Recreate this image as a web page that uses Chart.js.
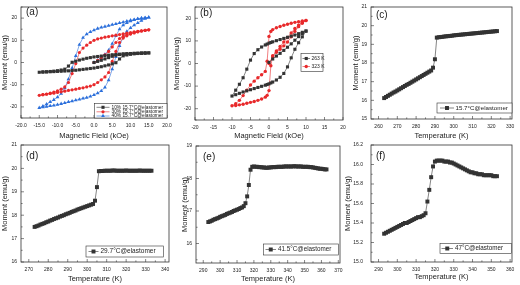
<!DOCTYPE html>
<html>
<head>
<meta charset="utf-8">
<script src="https://cdn.jsdelivr.net/npm/chart.js@4.4.0/dist/chart.umd.min.js"></script>
<style>
html, body { margin: 0; padding: 0; background: #fff; }
#wrap { position: relative; width: 520px; height: 285px; overflow: hidden; background: #fff; }
#wrap canvas { position: absolute; left: 0; top: 0; }
</style>
</head>
<body>
<div id="wrap">
  <canvas id="pa" width="520" height="285"></canvas>
  <canvas id="pb" width="520" height="285"></canvas>
  <canvas id="pc" width="520" height="285"></canvas>
  <canvas id="pd" width="520" height="285"></canvas>
  <canvas id="pe" width="520" height="285"></canvas>
  <canvas id="pf" width="520" height="285"></canvas>
</div>
<script>
// (a) field sweep: virgin 0 -> 15, then 15 -> -15, then -15 -> 15 (kOe)
const fieldA = [0,1,2,3,4,5,6,7,8,9,10,11,12,13,14,15,
  14,13,12,11,10,9,8,7,6,5,4,3,2,1,0,-1,-2,-3,-4,-5,-6,-7,-8,-9,-10,-11,-12,-13,-14,-15,
  -14,-13,-12,-11,-10,-9,-8,-7,-6,-5,-4,-3,-2,-1,0,1,2,3,4,5,6,7,8,9,10,11,12,13,14,15];
const moment10 = [0,0.5,1.0,1.6,2.2,2.8,3.3,3.6,3.8,3.95,4.05,4.1,4.15,4.2,4.25,4.3,
  4.25,4.2,4.15,4.1,4.0,3.95,3.85,3.75,3.6,3.5,3.3,3.1,2.9,2.7,2.5,2.2,1.9,1.5,1.1,0.6,0.1,-1.6,-3.0,-3.4,-3.7,-3.9,-4.05,-4.2,-4.3,-4.4,
  -4.25,-4.2,-4.15,-4.1,-4.0,-3.95,-3.85,-3.75,-3.6,-3.5,-3.3,-3.1,-2.9,-2.7,-2.5,-2.2,-1.9,-1.5,-1.1,-0.6,-0.1,1.6,3.0,3.4,3.7,3.9,4.05,4.2,4.3,4.35];
const moment30 = [0,1.0,2.2,3.5,5.0,7.0,9.0,10.8,11.8,12.5,13.0,13.5,13.9,14.2,14.5,14.7,
  14.5,14.3,14.0,13.8,13.5,13.2,12.9,12.6,12.3,12.0,11.7,11.4,11.0,10.6,10.0,9.0,7.8,6.5,4.5,-0.5,-5.0,-9.0,-11.0,-12.0,-12.8,-13.3,-13.8,-14.2,-14.5,-14.8,
  -14.5,-14.3,-14.0,-13.8,-13.5,-13.2,-12.9,-12.6,-12.3,-12.0,-11.7,-11.4,-11.0,-10.6,-10.0,-9.0,-7.8,-6.5,-4.5,0.5,5.0,9.0,11.0,12.0,12.8,13.3,13.8,14.2,14.5,14.7];
const moment40 = [0,1.0,2.2,3.6,5.5,8.5,12.0,15.0,16.8,17.8,18.6,19.2,19.6,19.9,20.1,20.3,
  20.1,19.9,19.6,19.3,19.0,18.6,18.2,17.8,17.4,17.0,16.6,16.2,15.8,15.3,14.6,13.8,12.8,11.2,8.0,3.0,-2.5,-7.5,-11.5,-14.0,-15.6,-16.8,-17.8,-18.8,-19.7,-20.4,
  -20.1,-19.9,-19.6,-19.3,-19.0,-18.6,-18.2,-17.8,-17.4,-17.0,-16.6,-16.2,-15.8,-15.3,-14.6,-13.8,-12.8,-11.2,-8.0,-3.0,2.5,7.5,11.5,14.0,15.6,16.8,17.8,18.8,19.7,20.3];
const fieldTicksA = [-20,-15,-10,-5,0,5,10,15,20];
const momentTicksA = [-20,-10,0,10,20];

// (b) field sweep, +-10 kOe
const fieldB = [0,1,2,3,4,5,6,7,8,9,10,
  9,8,7,6,5,4,3,2,1,0.5,0,-0.5,-1,-2,-3,-4,-5,-6,-7,-8,-9,-10,
  -9,-8,-7,-6,-5,-4,-3,-2,-1,-0.5,0,0.5,1,2,3,4,5,6,7,8,9,10];
const moment263 = [0.5,2.0,3.3,4.5,5.8,7.2,8.7,10.3,11.9,13.3,14.4,
  13.8,13.2,12.6,12.1,11.6,11.1,10.6,10.1,9.6,9.3,9.0,8.6,8.2,7.3,6.1,4.4,1.5,-2.5,-6.3,-9.2,-11.8,-14.4,
  -13.8,-13.2,-12.6,-12.1,-11.6,-11.1,-10.6,-10.1,-9.6,-9.3,-9.0,-8.6,-8.2,-7.3,-6.1,-4.4,-1.5,2.5,6.3,9.2,11.8,14.3];
const moment323 = [0,3.0,5.5,7.5,9.5,11.5,13.5,15.5,17.0,18.2,19.0,
  18.8,18.5,18.2,17.8,17.4,16.9,16.4,15.8,15.0,14.2,12.0,1.0,-3.5,-5.0,-6.3,-7.8,-9.5,-11.8,-14.2,-16.3,-17.8,-18.7,
  -18.6,-18.3,-18.0,-17.6,-17.2,-16.8,-16.3,-15.7,-14.9,-14.1,-12.0,-1.0,3.5,5.0,6.3,7.8,9.5,11.8,14.2,16.3,17.8,19.0];
const fieldTicksB = [-20,-15,-10,-5,0,5,10,15,20];
const momentTicksB = [-20,-10,0,10,20];

// (c) 15.7 C elastomer, M(T)
const tempC = [263,264,265,266,267,268,269,270,271,272,273,274,275,276,277,278,279,280,281,282,283,284,285,286,287,288,289,290,291,
  292,293,294,295,296,297,298,299,300,301,302,303,304,305,306,307,308,309,310,311,312,313,314,315,316,317,318,319,320,321,322,323];
const momentC = [16.12,16.18,16.24,16.30,16.36,16.42,16.47,16.53,16.59,16.65,16.71,16.77,16.83,16.88,16.94,17.00,17.06,17.12,17.18,17.24,17.30,17.36,17.42,17.48,17.54,17.60,17.75,18.20,19.36,
  19.38,19.39,19.40,19.42,19.43,19.44,19.45,19.46,19.48,19.49,19.50,19.51,19.52,19.53,19.54,19.55,19.56,19.57,19.58,19.59,19.60,19.61,19.62,19.63,19.64,19.65,19.66,19.67,19.68,19.69,19.70,19.71];
const tempTicksC = [260,270,280,290,300,310,320,330];
const momentTicksC = [15,16,17,18,19,20,21];

// (d) 29.7 C elastomer
const tempD = [273,274,275,276,277,278,279,280,281,282,283,284,285,286,287,288,289,290,291,292,293,294,295,296,297,298,299,300,301,302,303,304,305,306,
  307,308,309,310,311,312,313,314,315,316,317,318,319,320,321,322,323,324,325,326,327,328,329,330,331,332,333];
const momentD = [17.50,17.53,17.56,17.60,17.63,17.66,17.70,17.73,17.77,17.80,17.84,17.87,17.90,17.94,17.97,18.00,18.04,18.07,18.10,18.14,18.17,18.20,18.24,18.27,18.30,18.33,18.36,18.39,18.42,18.45,18.48,18.62,19.20,19.88,
  19.89,19.89,19.90,19.90,19.90,19.90,19.91,19.91,19.90,19.90,19.90,19.90,19.90,19.91,19.90,19.90,19.90,19.90,19.90,19.90,19.91,19.90,19.90,19.90,19.90,19.90,19.90];
const tempTicksD = [270,280,290,300,310,320,330,340];
const momentTicksD = [16,17,18,19,20,21];

// (e) 41.5 C elastomer
const tempE = [293,294,295,296,297,298,299,300,301,302,303,304,305,306,307,308,309,310,311,312,313,314,315,316,317,318,319,320,
  321,322,323,324,325,326,327,328,329,330,331,332,333,334,335,336,337,338,339,340,341,342,343,344,345,346,347,348,349,350,
  351,352,353,354,355,356,357,358,359,360,361,362,363];
const momentE = [16.66,16.68,16.70,16.73,16.75,16.77,16.79,16.82,16.84,16.86,16.88,16.91,16.93,16.95,16.97,17.00,17.02,17.04,17.06,17.09,17.11,17.15,17.24,17.45,17.80,18.27,18.36,18.37,
  18.36,18.36,18.35,18.35,18.34,18.34,18.33,18.33,18.34,18.34,18.35,18.35,18.35,18.36,18.36,18.36,18.36,18.37,18.37,18.37,18.37,18.37,18.37,18.38,18.37,18.37,18.37,18.37,18.36,18.36,
  18.36,18.36,18.35,18.35,18.34,18.33,18.32,18.31,18.30,18.30,18.29,18.28,18.28];
const tempTicksE = [290,300,310,320,330,340,350,360,370];
const momentTicksE = [16,17,18,19];

// (f) 47 C elastomer
const tempF = [293,294,295,296,297,298,299,300,301,302,303,304,305,306,307,308,309,310,311,312,313,314,315,316,317,318,319,320,
  321,322,323,324,325,326,327,328,329,330,331,332,333,334,335,336,337,338,339,340,341,342,343,344,345,346,347,348,349,350,351,352,353];
const momentF = [15.29,15.30,15.31,15.32,15.33,15.34,15.35,15.36,15.37,15.38,15.39,15.40,15.40,15.41,15.42,15.43,15.44,15.45,15.46,15.46,15.47,15.48,15.50,15.62,15.74,15.87,15.98,16.03,
  16.04,16.04,16.04,16.04,16.03,16.03,16.03,16.02,16.02,16.01,16.00,15.99,15.98,15.97,15.96,15.95,15.94,15.93,15.92,15.92,15.91,15.91,15.90,15.90,15.90,15.89,15.89,15.89,15.89,15.89,15.88,15.88,15.88];
const tempTicksF = [290,300,310,320,330,340,350,360];
const momentTicksF = [15.0,15.2,15.4,15.6,15.8,16.0,16.2];

const FONT = '"Liberation Sans", Arial, sans-serif';
const INK = '#222222';
const BLACK = '#333333';
const RED = '#e8292b';
const BLUE = '#2b6fdb';

const pts = (xs, ys) => xs.map((x, i) => ({ x: x, y: ys[i] }));

function series(label, xs, ys, color, style, r) {
    return {
        label: label,
        data: pts(xs, ys),
        borderColor: color,
        backgroundColor: color,
        borderWidth: 0.6,
        pointStyle: style,
        pointRadius: r,
        pointBorderWidth: 0,
        pointBackgroundColor: color,
        showLine: true,
        tension: 0
    };
}

// box, inward ticks, panel letter and the boxed legend, Origin style
const framePlugin = {
    id: 'frame',
    afterDraw(chart, args, o) {
        const { ctx, chartArea: a } = chart;
        const xs = chart.scales.x, ys = chart.scales.y;
        ctx.save();
        ctx.strokeStyle = '#333';
        ctx.lineWidth = 0.8;
        ctx.strokeRect(a.left, a.top, a.right - a.left, a.bottom - a.top);

        ctx.lineWidth = 0.6;
        const xv = xs.ticks.map(t => t.value);
        const yv = ys.ticks.map(t => t.value);
        const minorOf = (v, lo, hi) => {
            const out = [];
            const step = v[1] - v[0];
            for (let i = 0; i < v.length - 1; i++) out.push((v[i] + v[i + 1]) / 2);
            if (v[0] - step / 2 >= lo) out.push(v[0] - step / 2);
            if (v[v.length - 1] + step / 2 <= hi) out.push(v[v.length - 1] + step / 2);
            return out;
        };
        ctx.beginPath();
        xv.forEach(v => { const p = xs.getPixelForValue(v); ctx.moveTo(p, a.bottom); ctx.lineTo(p, a.bottom - 3); });
        minorOf(xv, xs.min, xs.max).forEach(v => { const p = xs.getPixelForValue(v); ctx.moveTo(p, a.bottom); ctx.lineTo(p, a.bottom - 1.6); });
        yv.forEach(v => { const p = ys.getPixelForValue(v); ctx.moveTo(a.left, p); ctx.lineTo(a.left + 3, p); });
        minorOf(yv, ys.min, ys.max).forEach(v => { const p = ys.getPixelForValue(v); ctx.moveTo(a.left, p); ctx.lineTo(a.left + 1.6, p); });
        ctx.stroke();

        ctx.fillStyle = INK;
        ctx.font = '10px ' + FONT;
        ctx.textBaseline = 'middle';
        ctx.fillText(o.letter, o.letterAt[0], o.letterAt[1]);

        const lg = o.legend;
        const [l, t, r, b] = lg.box;
        ctx.fillStyle = '#fff';
        ctx.fillRect(l, t, r - l, b - t);
        ctx.strokeStyle = '#333';
        ctx.lineWidth = 0.6;
        ctx.strokeRect(l, t, r - l, b - t);
        ctx.font = lg.size + 'px ' + FONT;
        chart.data.datasets.forEach((ds, i) => {
            const y = lg.rows[i];
            ctx.strokeStyle = ds.borderColor;
            ctx.lineWidth = 0.6;
            ctx.beginPath();
            ctx.moveTo(lg.line[0], y);
            ctx.lineTo(lg.line[1], y);
            ctx.stroke();
            ctx.fillStyle = ds.backgroundColor;
            Chart.helpers.drawPoint(ctx, { pointStyle: ds.pointStyle, radius: ds.pointRadius, rotation: 0, borderWidth: 0 },
                (lg.line[0] + lg.line[1]) / 2, y);
            ctx.fillStyle = INK;
            ctx.fillText(ds.label, lg.textX, y);
        });
        ctx.restore();
    }
};

function makePanel(id, p) {
    const axisX = {
        type: 'linear',
        position: 'bottom',
        min: p.xRange[0],
        max: p.xRange[1],
        grid: { display: false, drawTicks: false },
        border: { display: false },
        ticks: {
            color: INK, font: { size: 5, family: FONT }, padding: p.xPad,
            autoSkip: false, maxRotation: 0,
            callback: v => p.xFmt ? v.toFixed(p.xFmt) : String(v)
        },
        title: { display: true, text: p.xTitle, color: INK, font: { size: 7.5, family: FONT }, padding: 0 },
        afterBuildTicks: s => { s.ticks = p.xTicks.map(v => ({ value: v })); },
        afterFit: s => { s.height = p.xAxisH; }
    };
    const axisY = {
        type: 'linear',
        position: 'left',
        min: p.yRange[0],
        max: p.yRange[1],
        grid: { display: false, drawTicks: false },
        border: { display: false },
        ticks: {
            color: INK, font: { size: 5, family: FONT }, padding: p.yPad,
            autoSkip: false,
            callback: v => p.yFmt ? v.toFixed(p.yFmt) : String(v)
        },
        title: { display: true, text: p.yTitle, color: INK, font: { size: 7.5, family: FONT }, padding: 0 },
        afterBuildTicks: s => { s.ticks = p.yTicks.map(v => ({ value: v })); },
        afterFit: s => { s.width = p.yAxisW; }
    };
    const [l, t, r, b] = p.frame;
    return new Chart(document.getElementById(id), {
        type: 'scatter',
        data: { datasets: p.datasets },
        options: {
            responsive: false,
            animation: false,
            events: [],
            layout: { padding: { left: l - p.yAxisW, top: t, right: 520 - r, bottom: 285 - b - p.xAxisH } },
            plugins: {
                legend: { display: false },
                tooltip: { enabled: false },
                frame: { letter: p.letter, letterAt: p.letterAt, legend: p.legend }
            },
            scales: { x: axisX, y: axisY }
        },
        plugins: [framePlugin]
    });
}

const hTitle = 'Magnetic Field (kOe)';
const tTitle = 'Temperature (K)';
const mTitle = 'Moment (emu/g)';

makePanel('pa', {
    frame: [21, 2, 167, 118], yAxisW: 20.5, xAxisH: 22.5, xPad: 5, yPad: 4,
    xRange: [-20, 20], yRange: [-25, 25], xTicks: fieldTicksA, yTicks: momentTicksA, xFmt: 1,
    xTitle: hTitle, yTitle: mTitle, letter: '(a)', letterAt: [26, 12],
    legend: { box: [94.5, 103.5, 167, 118], rows: [107.3, 111.8, 116.0], line: [96.5, 109.5], textX: 111.5, size: 4.8 },
    datasets: [
        series('10% 15.7\u00b0C@elastomer', fieldA, moment10, BLACK, 'rect', 2.2),
        series('30% 15.7\u00b0C@elastomer', fieldA, moment30, RED, 'circle', 1.6),
        series('40% 15.7\u00b0C@elastomer', fieldA, moment40, BLUE, 'triangle', 2.2)
    ]
});

makePanel('pb', {
    frame: [195, 3, 343, 120], yAxisW: 22.5, xAxisH: 20.5, xPad: 5, yPad: 4,
    xRange: [-20, 20], yRange: [-25, 25], xTicks: fieldTicksB, yTicks: momentTicksB,
    xTitle: hTitle, yTitle: 'Moment(emu/g)', letter: '(b)', letterAt: [200, 13],
    legend: { box: [301, 53.5, 323, 71.5], rows: [58.5, 66.5], line: [302.5, 310], textX: 311.5, size: 5 },
    datasets: [
        series('263 K', fieldB, moment263, BLACK, 'rect', 2.2),
        series('323 K', fieldB, moment323, RED, 'circle', 1.7)
    ]
});

makePanel('pc', {
    frame: [371, 6, 512, 119], yAxisW: 19.5, xAxisH: 21, xPad: 5, yPad: 4,
    xRange: [256, 331], yRange: [15, 21], xTicks: tempTicksC, yTicks: momentTicksC,
    xTitle: tTitle, yTitle: mTitle, letter: '(c)', letterAt: [376, 15],
    legend: { box: [437, 103, 512, 113], rows: [108], line: [440, 454], textX: 455.5, size: 6.2 },
    datasets: [series('15.7\u00b0C@elastomer', tempC, momentC, BLACK, 'rect', 2.8)]
});

makePanel('pd', {
    frame: [21, 145, 169, 262], yAxisW: 20.5, xAxisH: 21.5, xPad: 5, yPad: 4,
    xRange: [266, 342], yRange: [16, 21], xTicks: tempTicksD, yTicks: momentTicksD,
    xTitle: tTitle, yTitle: mTitle, letter: '(d)', letterAt: [26, 156],
    legend: { box: [86, 246, 163.5, 257], rows: [251.5], line: [88.5, 98.5], textX: 100.5, size: 6.5 },
    datasets: [series('29.7\u00b0C@elastomer', tempD, momentD, BLACK, 'rect', 2.8)]
});

makePanel('pe', {
    frame: [196, 146, 340, 263], yAxisW: 15.5, xAxisH: 20, xPad: 5, yPad: 4,
    xRange: [285.7, 371], yRange: [15.4, 19], xTicks: tempTicksE, yTicks: momentTicksE,
    xTitle: tTitle, yTitle: mTitle, letter: '(e)', letterAt: [203, 157],
    legend: { box: [263.5, 244, 338.5, 255], rows: [249.5], line: [265.5, 276], textX: 278, size: 6.3 },
    datasets: [series('41.5\u00b0C@elastomer', tempE, momentE, BLACK, 'rect', 2.8)]
});

makePanel('pf', {
    frame: [371, 145, 512, 262], yAxisW: 27.5, xAxisH: 19.5, xPad: 5, yPad: 8,
    xRange: [286, 361], yRange: [15.0, 16.2], xTicks: tempTicksF, yTicks: momentTicksF, yFmt: 1,
    xTitle: tTitle, yTitle: mTitle, letter: '(f)', letterAt: [376, 156],
    legend: { box: [440, 243.5, 511.5, 253.5], rows: [248.5], line: [441.5, 453], textX: 455, size: 6.3 },
    datasets: [series('47\u00b0C@elastomer', tempF, momentF, BLACK, 'rect', 2.8)]
});
</script>
</body>
</html>
